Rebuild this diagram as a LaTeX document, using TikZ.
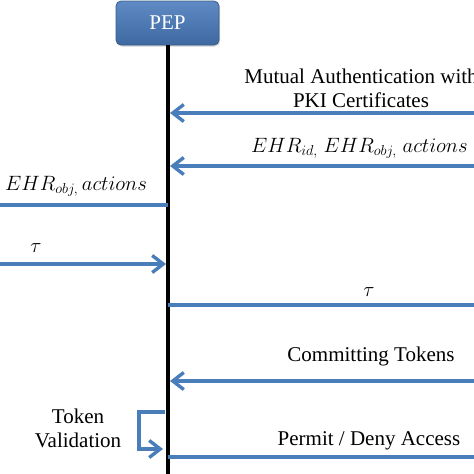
\documentclass[tikz,border=0pt]{standalone}
\usepackage{fontspec}
\setmainfont{Liberation Serif}
\usetikzlibrary{arrows.meta,shadows}
\definecolor{arrowblue}{RGB}{74,126,187}
\definecolor{boxtop}{RGB}{96,138,196}
\definecolor{boxbot}{RGB}{62,104,160}
\definecolor{boxline}{RGB}{56,93,138}
\tikzset{
  msg/.style={draw=arrowblue, line width=3.4pt},
  msgarrow/.style={msg, -{Straight Barb[length=11pt,width=17pt,line width=3.4pt]}},
  lbl/.style={font=\fontsize{21}{24}\selectfont, align=center, inner sep=0pt},
  mlbl/.style={font=\fontsize{21}{24}\selectfont, inner sep=0pt},
  lifeline/.style={draw=black, line width=3.2pt},
  pepbox/.style={rounded corners=5pt, draw=boxline, line width=0.8pt,
     top color=boxtop, bottom color=boxbot,
     drop shadow={shadow xshift=1pt, shadow yshift=-1.5pt, opacity=0.35},
     minimum width=103pt, minimum height=44pt, text=white,
     font=\fontsize{21}{24}\selectfont}
}
\begin{document}
\begin{tikzpicture}[x=1pt,y=-1pt]
\useasboundingbox (0,0) rectangle (474,474);
\clip (0,0) rectangle (474,474);
% PEP box and lifeline
\node[pepbox] (pep) at (167.5,23) {PEP};
\coordinate (lifebot) at (168,480);
\draw[lifeline] (pep.south -| lifebot) -- (lifebot);

% message 1
\coordinate (m1r) at (480,113);
\coordinate (m1l) at (170,113);
\draw[msgarrow] (m1r) -- (m1l);
\node[lbl] (t1) at (361,88) {Mutual Authentication with\\PKI Certificates};

% message 2
\coordinate (m2r) at (480,166);
\coordinate (m2l) at (170,166);
\draw[msgarrow] (m2r) -- (m2l);
\node[mlbl, anchor=west] (t2) at (251,148) {$EHR_{id,}\;EHR_{obj,}\;actions$};

% message 3 (outgoing left)
\coordinate (m3l) at (-5,205);
\coordinate (m3r) at (168,205);
\draw[msg] (m3r) -- (m3l);
\node[mlbl, anchor=west] (t3) at (5,186) {$EHR_{obj,}\,actions$};

% message 4 (incoming from left)
\coordinate (m4l) at (-5,264);
\coordinate (m4r) at (166,264);
\draw[msgarrow] (m4l) -- (m4r);
\node[mlbl] (t4) at (36,248) {$\tau$};

% message 5 (outgoing right)
\coordinate (m5l) at (168,305);
\coordinate (m5r) at (480,305);
\draw[msg] (m5l) -- (m5r);
\node[mlbl] (t5) at (369,292) {$\tau$};

% message 6
\coordinate (m6r) at (480,381);
\coordinate (m6l) at (170,381);
\draw[msgarrow] (m6r) -- (m6l);
\node[lbl] (t6) at (371,356) {Committing Tokens};

% self loop: token validation
\coordinate (v1) at (165,412);
\coordinate (v2) at (163,449);
\draw[msgarrow] (v1) -- (139,412) -- (139,449) -- (v2);
\node[lbl] (tv) at (78,428) {Token\\Validation};

% message 7
\coordinate (m7l) at (168,457);
\coordinate (m7r) at (480,457);
\draw[msg] (m7l) -- (m7r);
\node[lbl] (t7) at (369,441) {Permit / Deny Access};
\end{tikzpicture}
\end{document}
